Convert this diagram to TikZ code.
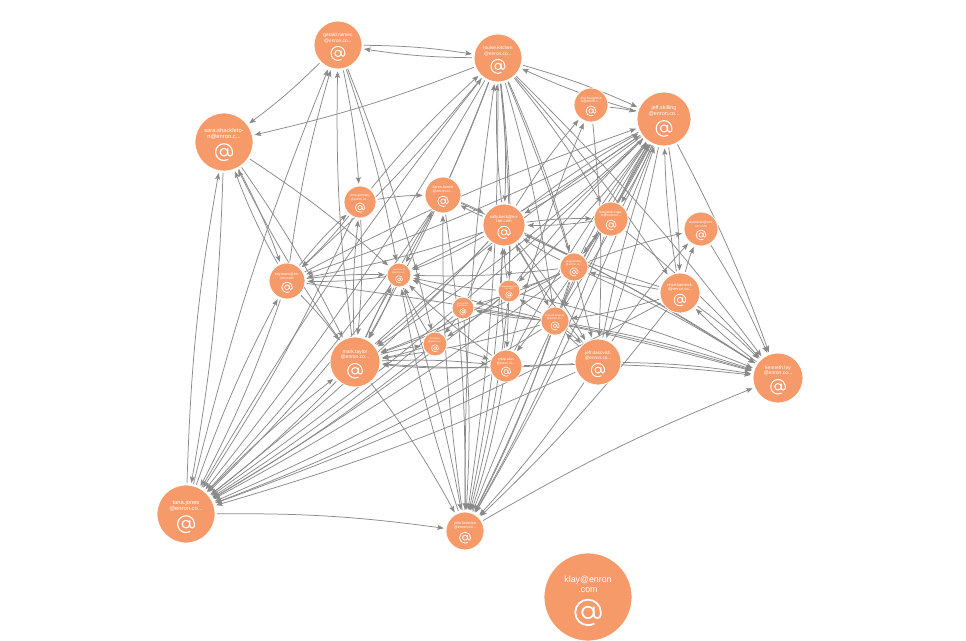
\documentclass[tikz,border=0pt]{standalone}
\usepackage{fontspec}
\setmainfont{Liberation Sans}
\usetikzlibrary{arrows.meta}
\pgfdeclarelayer{bg}
\pgfsetlayers{bg,main}
\definecolor{nodec}{RGB}{247,154,106}
\definecolor{edgec}{RGB}{138,138,138}
\tikzset{
  pcirc/.style={circle, fill=nodec, draw=white, line width=0.8pt, inner sep=0pt},
  ptxt/.style={text=white, align=center, inner sep=0pt},
  edg/.style={draw=edgec, line width=0.75pt, -{Stealth[length=6.5pt,width=5pt,inset=1.2pt]}, shorten >=2pt, shorten <=1.5pt},
}
\newcommand\pnode[6]{%
  \pgfmathsetmacro\pfs{0.2*#4}%
  \pgfmathsetmacro\pls{0.22*#4}%
  \pgfmathsetmacro\plw{0.04*#4}%
  \node[pcirc, minimum size={2*#4pt}] (#1) at (#2,#3) {};
  \node[ptxt, font=\fontsize{\pfs pt}{\pls pt}\selectfont, yshift={0.29*#4pt}] at (#1) {#5\\#6};
  \begin{scope}[shift={(#1.center)}, x=#4pt, y=#4pt, line width=\plw pt, white]
    \draw (0,-0.35) circle (0.13);
    \draw (0.13,-0.22) -- (0.13,-0.4) arc[start angle=180,end angle=360,radius=0.08] -- (0.29,-0.35) arc[start angle=0,end angle=300,radius=0.29];
  \end{scope}
}
\begin{document}
\begin{tikzpicture}[x=1pt,y=-1pt]
\begin{pgfonlayer}{bg}
\fill[white] (0,0) rectangle (966,640);
\end{pgfonlayer}
\useasboundingbox (0,0) rectangle (966,640);
\pnode{gn}{338}{45}{24}{gerald.nemec}{@enron.co...}
\pnode{lk}{498}{58}{24}{louise.kitchen}{@enron.co...}
\pnode{ss}{224}{142}{29}{sara.shackleto-}{n@enron.c...}
\pnode{js}{664}{119}{27}{jeff.skilling}{@enron.co...}
\pnode{db}{591}{105}{17}{don.baughma}{n@enron.c...}
\pnode{cg}{360}{202}{16}{chris.germany}{@enron.co...}
\pnode{df}{443}{195}{18}{daren.farmer}{@enron.co...}
\pnode{sb}{504}{225}{21}{sally.beck@en-}{ron.com}
\pnode{br}{611}{219}{17}{benjamin.roge-}{rs@enron.c...}
\pnode{vk}{701}{229}{17}{vkaminski@enr-}{on.com}
\pnode{km}{287}{281}{18}{kay.mann@en-}{ron.com}
\pnode{su}{399}{275}{12}{susan.scott}{@enron.co...}
\pnode{gw}{574}{267}{14}{greg.whalley}{@enron.co...}
\pnode{vi}{680}{293}{20}{vince.kaminsk-}{i@enron.co...}
\pnode{sk}{509}{291}{11}{steven.kean@en-}{ron.com}
\pnode{jg}{463}{308}{11}{john.griffith}{@enron.co...}
\pnode{rs}{555}{321}{14}{richard.shapiro}{@enron.co...}
\pnode{eb}{435}{344}{12}{eric.bass}{@enron.co...}
\pnode{mt}{355}{362}{25}{mark.taylor}{@enron.co...}
\pnode{pa}{506}{366}{16}{phillip.allen}{@enron.co...}
\pnode{jd}{598}{362}{23}{jeff.dasovich}{@enron.co...}
\pnode{kl}{778}{378}{25}{kenneth.lay}{@enron.co...}
\pnode{tj}{186}{514}{29}{tana.jones}{@enron.co...}
\pnode{jl}{465}{531}{19}{john.lavorato}{@enron.co...}
\pnode{ky}{588}{597}{44}{klay@enron}{.com}
\begin{pgfonlayer}{bg}
\foreach \a/\b in {gn/lk, lk/gn, gn/ss, lk/ss, lk/js, js/lk, gn/cg, tj/gn, mt/gn, km/gn, gn/eb, gn/su,
  ss/tj, tj/ss, km/ss, mt/ss, ss/km, ss/mt, ss/su,
  cg/df, km/cg, cg/km, cg/tj, mt/cg, cg/lk, cg/mt,
  df/sb, sb/df, df/tj, df/jl, jl/df, mt/df,
  lk/sb, sb/lk, js/sb, sb/js, sb/tj, sb/jl, sb/kl, sb/su, sb/mt, sb/km, br/sb, gw/sb, vi/sb, sb/rs, sb/jd, sk/sb, pa/sb, jg/sb,
  js/su, js/mt, js/tj, js/jl, js/gw, js/rs, js/jd, js/kl, js/vi, js/br, js/pa, js/sk, js/km,
  gw/js, rs/js, pa/js, jd/js, sk/js, mt/js, km/js, vi/js, jl/js, br/js, db/js, sb/db, pa/db, db/jd,
  vi/kl, kl/vi, vi/vk, gw/vk, jd/vk, vi/gw, vi/rs, vi/jl, vi/tj, lk/vi,
  lk/br, sb/br, br/kl, br/jl, gw/br,
  km/su, su/km, km/mt, km/tj, tj/km, lk/km, km/kl,
  su/tj, su/mt, mt/su, su/jl, jl/su, pa/su, sk/su, lk/su, eb/su, rs/su, gw/su,
  mt/tj, tj/mt, eb/mt, mt/eb, pa/mt, mt/pa, lk/mt, gw/mt, rs/mt, jd/mt, sk/mt, mt/jl,
  eb/tj, eb/pa, sk/eb, jg/eb,
  jg/tj, jg/jl, jg/kl, rs/jg, gw/jg,
  sk/tj, sk/jl, sk/kl, lk/sk, gw/sk, rs/sk,
  gw/kl, gw/jl, gw/tj, lk/gw, gw/rs,
  rs/kl, rs/jl, rs/tj, lk/rs, jd/rs, rs/jd,
  pa/jl, pa/tj, pa/kl, lk/pa,
  jd/kl, jd/jl, jd/tj, lk/jd, jd/sb,
  tj/jl, tj/lk, lk/tj,
  jl/kl, lk/jl, jl/lk, lk/kl, df/kl, vk/kl}
  \draw[edg] (\a) to[bend left=4] (\b);
\end{pgfonlayer}
\end{tikzpicture}
\end{document}
